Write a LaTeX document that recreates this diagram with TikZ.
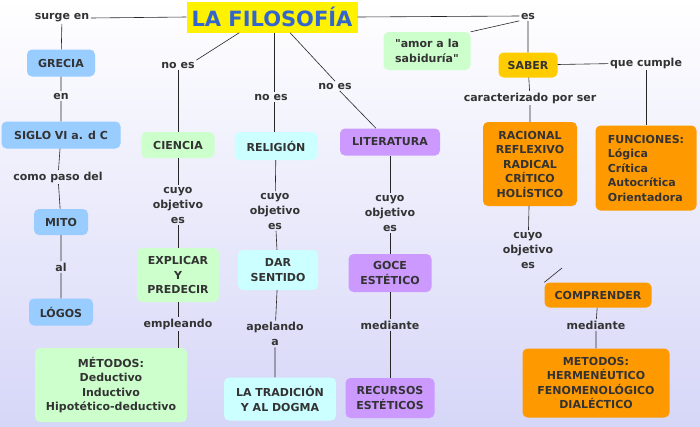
\documentclass[tikz,border=0pt]{standalone}
\usepackage{fontspec}
\setmainfont{DejaVu Sans}
\definecolor{txt}{HTML}{333333}
\definecolor{cblue}{HTML}{99CCFF}
\definecolor{cgreen}{HTML}{CCFFCC}
\definecolor{ccyan}{HTML}{CCFFFF}
\definecolor{cpurp}{HTML}{CC99FF}
\definecolor{corange}{HTML}{FF9900}
\definecolor{cgold}{HTML}{FFCC00}
\definecolor{bgbot}{HTML}{D6D6F8}
\begin{document}
\begin{tikzpicture}[x=1pt,y=-1pt,
  box/.style={rounded corners=5pt,align=center,text=txt,font=\bfseries\fontsize{11}{14.5}\selectfont,inner sep=2pt},
  lab/.style={text=txt,font=\bfseries\fontsize{11}{15}\selectfont,align=center,inner sep=1.5pt},
  ln/.style={draw=black!85,line width=0.6pt}]
\shade[top color=white,bottom color=bgbot] (0,0) rectangle (700,426);
\useasboundingbox (0,0) rectangle (700,426);
\node[fill=yellow,text={rgb,255:red,51;green,102;blue,204},font=\bfseries\fontsize{21}{24}\selectfont,minimum width=171,minimum height=31,inner sep=0pt] (t) at (272,17) {LA FILOSOFÍA};
% left column
\node[lab] (surge) at (62,18) {surge en};
\node[box,fill=cblue,minimum width=68,minimum height=27] (grecia) at (61,63) {GRECIA};
\node[lab] (en) at (61,96) {en};
\node[box,fill=cblue,minimum width=119,minimum height=27] (siglo) at (61,135) {SIGLO VI a. d C};
\node[lab] (como) at (58,177) {como paso del};
\node[box,fill=cblue,minimum width=54,minimum height=26] (mito) at (61,222) {MITO};
\node[lab] (al) at (61,267) {al};
\node[box,fill=cblue,minimum width=64,minimum height=27] (logos) at (61,312) {LÓGOS};
% ciencia
\node[lab] (noes1) at (178,65) {no es};
\node[box,fill=cgreen,minimum width=73,minimum height=26] (ciencia) at (178,145) {CIENCIA};
\node[lab] (cuyo1) at (178,205) {cuyo\\objetivo\\es};
\node[box,fill=cgreen,minimum width=82,minimum height=54] (expl) at (178,275) {EXPLICAR\\Y\\PREDECIR};
\node[lab] (empl) at (178,324) {empleando};
\node[box,fill=cgreen,minimum width=152,minimum height=74] (met1) at (111,385) {MÉTODOS:\\Deductivo\\Inductivo\\Hipotético-deductivo};
% religion
\node[lab] (noes2) at (271,97) {no es};
\node[box,fill=ccyan,minimum width=83,minimum height=28] (rel) at (276,146) {RELIGIÓN};
\node[lab] (cuyo2) at (275,211) {cuyo\\objetivo\\es};
\node[box,fill=ccyan,minimum width=80,minimum height=40] (dar) at (278,270) {DAR\\SENTIDO};
\node[lab] (apel) at (275,334) {apelando\\a};
\node[box,fill=ccyan,minimum width=112,minimum height=43] (trad) at (280,399) {LA TRADICIÓN\\Y AL DOGMA};
% literatura
\node[lab] (noes3) at (335,86) {no es};
\node[box,fill=cpurp,minimum width=100,minimum height=27] (lit) at (390,142) {LITERATURA};
\node[lab] (cuyo3) at (390,213) {cuyo\\objetivo\\es};
\node[box,fill=cpurp,minimum width=83,minimum height=38] (goce) at (390,273) {GOCE\\ESTÉTICO};
\node[lab] (med1) at (390,325) {mediante};
\node[box,fill=cpurp,minimum width=89,minimum height=40] (recur) at (390,398) {RECURSOS\\ESTÉTICOS};
% right
\node[lab] (es) at (528,16) {es};
\node[box,fill=cgreen,minimum width=87,minimum height=38] (amor) at (427,51) {\textquotedbl amor a la\\sabiduría\textquotedbl};
\node[box,fill=cgold,minimum width=59,minimum height=25] (saber) at (528,65) {SABER};
\node[lab] (cumple) at (646,63) {que cumple};
\node[lab] (carac) at (530,98) {caracterizado por ser};
\node[box,fill=corange,minimum width=94,minimum height=84] (rac) at (530,164) {RACIONAL\\REFLEXIVO\\RADICAL\\CRÍTICO\\HOLÍSTICO};
\node[box,fill=corange,minimum width=101,minimum height=85,align=left] (func) at (646,168) {FUNCIONES:\\Lógica\\Crítica\\Autocrítica\\Orientadora};
\node[lab] (cuyo4) at (528,250) {cuyo\\objetivo\\es};
\node[box,fill=corange,minimum width=107,minimum height=25] (comp) at (598,295) {COMPRENDER};
\node[lab] (med2) at (596,325) {mediante};
\node[box,fill=corange,minimum width=147,minimum height=69] (met2) at (596,383) {METODOS:\\HERMENÉUTICO\\FENOMENOLÓGICO\\DIALÉCTICO};
\coordinate (c4) at (562,268);
% lines
\draw[ln] (t.west) -- (surge.east);
\draw[ln] (surge) -- (grecia) -- (en) -- (siglo) -- (como) -- (mito) -- (al) -- (logos);
\draw[ln] (t.south west)++(53,0) -- (noes1.north east);
\draw[ln] (noes1) -- (ciencia) -- (cuyo1) -- (expl) -- (empl) -- (empl|-met1.north);
\draw[ln] (t.south)++(2,0) -- (noes2.north-|274,0);
\draw[ln] (noes2.south-|274,0) -- (rel.north-|274,0);
\draw[ln] (rel) -- (cuyo2) -- (dar) -- (apel) -- (apel|-trad.north);
\draw[ln] (t.south)++(18,0) -- (noes3.north);
\draw[ln] (noes3) -- (lit.north-|376,0);
\draw[ln] (lit) -- (cuyo3) -- (goce) -- (med1) -- (recur);
\draw[ln] (t.east) -- (es.west);
\draw[ln] (es.south west) -- (amor.north east);
\draw[ln] (es) -- (saber) -- (carac) -- (rac);
\draw[ln] (saber) -- (cumple);
\draw[ln] (cumple) -- (cumple|-func.north);
\draw[ln] (rac) -- (cuyo4);
\draw[ln] (c4) -- (comp.north west);
\draw[ln] (comp) -- (med2) -- (met2);
\end{tikzpicture}
\end{document}
